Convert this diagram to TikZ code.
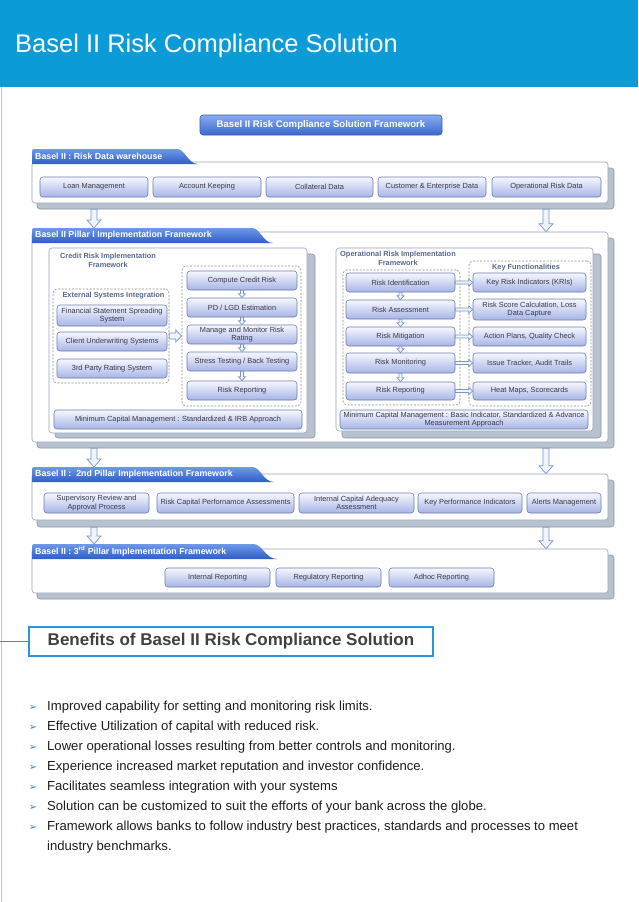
\documentclass[tikz,border=0pt]{standalone}
\usepackage{fontspec}
\setmainfont{Liberation Sans}
\newfontfamily\dejavu{DejaVu Sans}
\usetikzlibrary{calc}
\definecolor{hdrblue}{HTML}{0B9BD7}
\definecolor{tabtop}{HTML}{6E98E8}
\definecolor{tabbot}{HTML}{2E5EC6}
\definecolor{btntop}{HTML}{88AAEE}
\definecolor{btnbot}{HTML}{3A68CE}
\definecolor{btnline}{HTML}{3A5FB0}
\definecolor{boxtop}{HTML}{F6F7FE}
\definecolor{boxbot}{HTML}{A7B5E6}
\definecolor{boxline}{HTML}{6C7DAE}
\definecolor{boxtext}{HTML}{3A3A48}
\definecolor{panelline}{HTML}{9AA6B6}
\definecolor{shadowfill}{HTML}{B7C2CE}
\definecolor{shadowline}{HTML}{8797A8}
\definecolor{subtitle}{HTML}{56698C}
\definecolor{arrowline}{HTML}{7D96CA}
\definecolor{arrowfill}{HTML}{F0F4FC}
\definecolor{grpline}{HTML}{8C8C8C}
\definecolor{benblue}{HTML}{2499D5}
\definecolor{bentext}{HTML}{404040}
\definecolor{bultext}{HTML}{1E1E1E}
\definecolor{bulcolor}{HTML}{3C86C4}
\definecolor{edgegray}{HTML}{C8C8C8}

% node from corner (x1,y1) to corner (x2,y2)
\newcommand\bxn[7][bx]{\node[#1,minimum width={#5-#3},minimum height={#6-#4}] (#2) at ({(#3+#5)/2},{(#4+#6)/2}) {#7};}
% hollow block arrow pointing down, from #1 to #2
\newcommand\varrow[5]{\path[blockarrow] let \p1=(#1), \p2=(#2) in (\x1-#3pt,\y1) -- (\x1-#3pt,\y2+#5pt) -- (\x1-#4pt,\y2+#5pt) -- (\x1,\y2) -- (\x1+#4pt,\y2+#5pt) -- (\x1+#3pt,\y2+#5pt) -- (\x1+#3pt,\y1) -- cycle;}
% hollow block arrow pointing right, from #1 to #2
\newcommand\harrow[5]{\path[blockarrow] let \p1=(#1), \p2=(#2) in (\x1,\y1+#3pt) -- (\x2-#5pt,\y1+#3pt) -- (\x2-#5pt,\y1+#4pt) -- (\x2,\y1) -- (\x2-#5pt,\y1-#4pt) -- (\x2-#5pt,\y1-#3pt) -- (\x1,\y1-#3pt) -- cycle;}
% section tab: name, top y, flat end, curve end, text
\newcommand\tabbar[5]{%
  \shade[top color=tabtop,bottom color=tabbot] (32,#2+15) [rounded corners=2pt] -- (32,#2) -- (#3,#2) [sharp corners] .. controls ({#3+(#4-#3)*0.45},#2) and ({#4-(#4-#3)*0.45},#2+15) .. (#4,#2+15) -- cycle;
  \coordinate (#1top) at (32,#2);
  \node[tabtxt,anchor=west] (#1) at (35,#2+7.5) {#5};}

\begin{document}
\begin{tikzpicture}[x=1pt,y=-1pt,
  bx/.style={draw=boxline, line width=0.6pt, rounded corners=3pt, top color=boxtop, bottom color=boxbot, text=boxtext, font=\fontsize{7.4}{8.4}\selectfont, align=center, inner sep=0.5pt},
  panel/.style={draw=panelline, line width=0.6pt, fill=white, rounded corners=3pt, inner sep=0pt},
  shadowp/.style={draw=shadowline, line width=0.6pt, fill=shadowfill, rounded corners=3pt, inner sep=0pt},
  grp/.style={draw=grpline, dash pattern=on 2pt off 1.5pt, line width=0.6pt, rounded corners=4pt, inner sep=0pt},
  subt/.style={text=subtitle, font=\bfseries\fontsize{7.4}{9}\selectfont, align=center, inner sep=0pt},
  tabtxt/.style={text=white, font=\bfseries\fontsize{8.8}{10}\selectfont, inner sep=0pt},
  btn/.style={draw=btnline, line width=0.6pt, rounded corners=3pt, top color=btntop, bottom color=btnbot, text=white, font=\bfseries\fontsize{9.6}{11}\selectfont, inner sep=0pt},
  blockarrow/.style={draw=arrowline, fill=arrowfill, line width=0.7pt, line join=miter},
  bul/.style={text=bultext, font=\fontsize{13.1}{15}\selectfont, inner sep=0pt, anchor=base west},
  bmark/.style={text=bulcolor, font=\dejavu\fontsize{10}{12}\selectfont, inner sep=0pt, anchor=base},
]
\useasboundingbox (0,0) rectangle (638,902);
\fill[white] (0,0) rectangle (638,902);

% header
\fill[hdrblue] (0,0) rectangle (638,87);
\node[text=white, font=\fontsize{25.5}{30}\selectfont, inner sep=0pt, anchor=base west] (title) at (15,52) {Basel II Risk Compliance Solution};
\draw[edgegray, line width=0.8pt] (1.5,87) -- (1.5,902);

% framework button
\bxn[btn]{fwb}{200}{115}{442}{135}{Basel II Risk Compliance Solution Framework}

% ---------- Risk Data warehouse ----------
\bxn[shadowp]{dws}{37}{168}{614}{209}{}
\bxn[panel]{dwp}{32}{162}{608}{203}{}
\tabbar{t1}{149}{175}{198}{Basel II : Risk Data warehouse}
\bxn{lm}{40}{177}{148}{197}{Loan Management}
\bxn{ak}{153}{177}{261}{197}{Account Keeping}
\bxn{cd}{266}{177}{373}{197}{Collateral Data}
\bxn{ce}{378}{177}{486}{197}{Customer \& Enterprise Data}
\bxn{od}{492}{177}{601}{197}{Operational Risk Data}

% ---------- Pillar I ----------
\bxn[shadowp]{p1s}{37}{238}{614}{448}{}
\bxn[panel]{p1p}{32}{232}{608}{442}{}
\tabbar{t2}{228}{250}{273}{Basel II Pillar I Implementation Framework}

% credit risk
\bxn[shadowp]{crs}{55}{254}{315}{438}{}
\bxn[panel]{crp}{49}{248}{307}{433}{}
\node[subt] (crt) at (108,260.5) {Credit Risk Implementation\\Framework};
\bxn[grp]{eg}{53}{289}{169}{383}{}
\node[subt] (egt) at (113.5,295.5) {External Systems Integration};
\bxn{fss}{57}{305}{167}{326}{Financial Statement Spreading\\System}
\bxn{cus}{57}{332}{167}{351}{Client Underwriting Systems}
\bxn{tpr}{57}{359}{167}{378}{3rd Party Rating System}
\bxn[grp]{rg}{182}{266}{301}{406}{}
\bxn{ccr}{187}{271}{297}{290}{Compute Credit Risk}
\bxn{pd}{187}{298}{297}{317}{PD / LGD Estimation}
\bxn{mm}{187}{325}{297}{344}{Manage and Monitor Risk\\Rating}
\bxn{st}{187}{352}{297}{371}{Stress Testing / Back Testing}
\bxn{crr}{187}{381}{297}{400}{Risk Reporting}
\bxn{mcc}{54}{410}{302}{429}{Minimum Capital Management : Standardized \& IRB Approach}
\harrow{eg.east}{rg.west}{3}{6}{6}
\varrow{ccr.south}{pd.north}{1.5}{3.5}{4}
\varrow{pd.south}{mm.north}{1.5}{3.5}{4}
\varrow{mm.south}{st.north}{1.5}{3.5}{4}
\varrow{st.south}{crr.north}{1.5}{3.5}{4}

% operational risk
\bxn[shadowp]{ors}{342}{254}{601}{438}{}
\bxn[panel]{orp}{336}{248}{593}{431}{}
\node[subt] (ort) at (398,258.5) {Operational Risk Implementation\\Framework};
\bxn[grp]{og}{343}{270}{460}{405}{}
\bxn[grp]{kg}{469}{261}{591}{406}{}
\node[subt] (kgt) at (526,268) {Key Functionalities};
\bxn{ri}{346}{273}{455}{292}{Risk Identification}
\bxn{ra}{346}{300}{455}{319}{Risk Assessment}
\bxn{rmi}{346}{327}{455}{346}{Risk Mitigation}
\bxn{rmo}{346}{353}{455}{373}{Risk Monitoring}
\bxn{orr}{346}{382}{455}{400}{Risk Reporting}
\bxn{kri}{473}{273}{586}{292}{Key Risk Indicators (KRIs)}
\bxn{rsc}{473}{299}{586}{320}{Risk Score Calculation, Loss\\Data Capture}
\bxn{apq}{473}{327}{586}{346}{Action Plans, Quality Check}
\bxn{ita}{473}{353}{586}{373}{Issue Tracker, Audit Trails}
\bxn{hms}{473}{382}{586}{400}{Heat Maps, Scorecards}
\bxn{mco}{340}{410}{588}{429}{Minimum Capital Management : Basic Indicator, Standardized \& Advance\\Measurement Approach}
\varrow{ri.south}{ra.north}{1.5}{3.5}{4}
\varrow{ra.south}{rmi.north}{1.5}{3.5}{4}
\varrow{rmi.south}{rmo.north}{1.5}{3.5}{4}
\varrow{rmo.south}{orr.north}{1.5}{3.5}{4}
\harrow{ri.east}{kri.west}{1.5}{3.5}{4}
\harrow{ra.east}{rsc.west}{1.5}{3.5}{4}
\harrow{rmi.east}{apq.west}{1.5}{3.5}{4}
\harrow{rmo.east}{ita.west}{1.5}{3.5}{4}
\harrow{orr.east}{hms.west}{1.5}{3.5}{4}

% ---------- Pillar 2 ----------
\bxn[shadowp]{p2s}{37}{480}{614}{527}{}
\bxn[panel]{p2p}{32}{474}{608}{520}{}
\tabbar{t3}{467}{250}{274}{Basel II :\ \ 2nd Pillar Implementation Framework}
\bxn{sr}{44}{493}{149}{513}{Supervisory Review and\\Approval Process}
\bxn{rc}{157}{493}{294}{513}{Risk Capital Perfornamce Assessments}
\bxn{ica}{299}{493}{414}{513}{Internal Capital Adequacy\\Assessment}
\bxn{kpi}{418}{493}{522}{513}{Key Performance Indicators}
\bxn{alm}{527}{493}{601}{513}{Alerts Management}

% ---------- Pillar 3 ----------
\bxn[shadowp]{p3s}{37}{555}{614}{599}{}
\bxn[panel]{p3p}{32}{549}{608}{593}{}
\tabbar{t4}{544}{251}{277}{Basel II : 3\textsuperscript{rd} Pillar Implementation Framework}
\bxn{irp}{165}{568}{270}{587}{Internal Reporting}
\bxn{rgp}{276}{568}{381}{587}{Regulatory Reporting}
\bxn{ahp}{389}{568}{494}{587}{Adhoc Reporting}

% ---------- arrows between sections ----------
\coordinate (axl) at (94,0);
\coordinate (axr) at (546,0);
\varrow{dws.south -| axl}{t2top -| axl}{3}{7}{8}
\varrow{dws.south -| axr}{p1p.north -| axr}{3}{7}{8}
\varrow{p1s.south -| axl}{t3top -| axl}{3}{7}{8}
\varrow{p1s.south -| axr}{p2p.north -| axr}{3}{7}{8}
\varrow{p2s.south -| axl}{t4top -| axl}{3}{7}{8}
\varrow{p2s.south -| axr}{p3p.north -| axr}{3}{7}{8}

% ---------- Benefits ----------
\node[draw=benblue, line width=2pt, minimum width=404, minimum height=29, inner sep=0pt, text=bentext, font=\bfseries\fontsize{17}{20}\selectfont] (bt) at (231,641.5) {Benefits of Basel II Risk Compliance Solution};
\coordinate (ledge) at (0,641.5);
\draw[benblue, line width=1.5pt] (ledge) -- (bt.west);

\foreach \i/\y/\t in {1/710.5/{Improved capability for setting and monitoring risk limits.},
  2/730.5/{Effective Utilization of capital with reduced risk.},
  3/750.5/{Lower operational losses resulting from better controls and monitoring.},
  4/770.5/{Experience increased market reputation and investor confidence.},
  5/790.5/{Facilitates seamless integration with your systems},
  6/810.5/{Solution can be customized to suit the efforts of your bank across the globe.},
  7/830.5/{Framework allows banks to follow industry best practices, standards and processes to meet}}{
  \node[bmark] (m\i) at (33,\y) {➢};
  \node[bul] (b\i) at (47,\y) {\t};
}
\node[bul] (b8) at (47,850.5) {industry benchmarks.};
\end{tikzpicture}
\end{document}
